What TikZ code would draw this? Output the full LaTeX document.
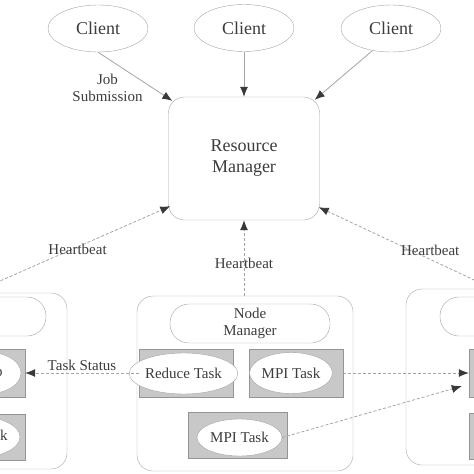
\documentclass[tikz,border=0pt]{standalone}
\usepackage{fontspec}
\setmainfont{Liberation Serif}
\usetikzlibrary{shapes.geometric,arrows.meta}
\definecolor{cline}{HTML}{A4A4A4}
\definecolor{ctext}{HTML}{3C3C3C}
\definecolor{cfill}{HTML}{C8C8C8}
\definecolor{chead}{HTML}{383838}

\begin{document}
\begin{tikzpicture}[x=1pt,y=-1pt,
  client/.style={draw=cline,ellipse,minimum width=100pt,minimum height=47pt,inner sep=0pt,
    text=ctext,font=\fontsize{18}{20}\selectfont},
  manager/.style={draw=cline,rounded corners=16pt,minimum width=151pt,minimum height=123pt,
    text=ctext,font=\fontsize{18}{21}\selectfont,align=center},
  node box/.style={draw=cline,rounded corners=16pt,minimum width=216pt,minimum height=176pt},
  pill/.style={draw=cline,rounded corners=19pt,minimum width=160pt,minimum height=39pt,
    text=ctext,font=\fontsize{15}{17}\selectfont,align=center,inner sep=0pt},
  slot/.style={draw=cline!90!black,fill=cfill,minimum width=94pt,minimum height=48pt},
  task/.style={draw=cline,fill=white,ellipse,minimum width=81pt,minimum height=41pt,inner sep=0pt,
    text=ctext,font=\fontsize{15}{17}\selectfont},
  lbl/.style={text=ctext,font=\fontsize{15}{17}\selectfont,align=center},
  >={Latex[length=10pt,width=8pt,color=chead]},
  arr/.style={->,draw=cline,line width=0.8pt},
  hb/.style={arr,dash pattern=on 3pt off 2pt}]
  \useasboundingbox (0,0) rectangle (474,474);
  \clip (0,0) rectangle (474,474);
  % clients and resource manager
  \node[client] (c1) at (98,28.5) {Client};
  \node[client] (c2) at (244,28) {Client};
  \node[client] (c3) at (391,28.5) {Client};
  \node[manager] (rm) at (244,158.5) {Resource\\Manager};
  % node managers
  \node[node box] (nl) at (-41,381) {};
  \node[node box,minimum height=175pt] (nc) at (245,383.5) {};
  \node[node box] (nr) at (514,377) {};
  \node[pill] (pl) at (-34,316.5) {};
  \node[pill] (pc) at (250,323.5) {Node\\Manager};
  \node[pill] (pr) at (520,316.5) {};
  \node[slot] (sl1) at (-22,373) {};
  \node[task,minimum width=64pt] (tl1) at (-11,373) {Map};
  \node[slot,minimum height=46pt] (sl2) at (-22,437) {};
  \node[task,minimum width=84pt] (tl2) at (-22,437) {Map Task};
  \node[slot] (sr) at (186,373) {};
  \node[task] (tr) at (183.5,373.5) {Reduce Task};
  \node[slot] (sm1) at (296,373) {};
  \node[task,minimum width=78pt] (tm1) at (291,373) {MPI Task};
  \node[slot,minimum width=99pt,minimum height=46pt] (sm2) at (237.5,435) {};
  \node[task,minimum width=85pt,minimum height=37pt] (tm2) at (239.5,437.5) {MPI Task};
  \node[slot] (sq1) at (516,373) {};
  \node[slot,minimum height=46pt] (sq2) at (516,436) {};
  % job submission
  \draw[arr] (c1.south) -- ([shift={(4,4)}]rm.north west)
    node[lbl,pos=0.73,anchor=east,xshift=-6pt] {Job\\Submission};
  \draw[arr] (c2.south) -- (rm.north);
  \draw[arr] (c3.230) -- ([shift={(-5,3)}]rm.north east);
  % heartbeats
  \draw[hb] ([xshift=14]nl.north) -- ([shift={(2,-14)}]rm.south west)
    node[lbl,pos=0.53,yshift=-2pt] {Heartbeat};
  \draw[hb] (rm.south |- nc.north) -- (rm.south)
    node[lbl,pos=0.43] {Heartbeat};
  \draw[hb] ([xshift=-21]nr.north) -- ([shift={(-1,-13)}]rm.south east)
    node[lbl,pos=0.36,yshift=9pt] {Heartbeat};
  % task traffic
  \draw[hb] (sr.west) -- (sl1.east)
    node[lbl,midway,above,yshift=-1pt] {Task Status};
  \draw[hb] (sm1.east) -- (sq1.west);
  \draw[hb] (tm2.east) -- ([shift={(-7,-11)}]sq1.south west);
\end{tikzpicture}
\end{document}
